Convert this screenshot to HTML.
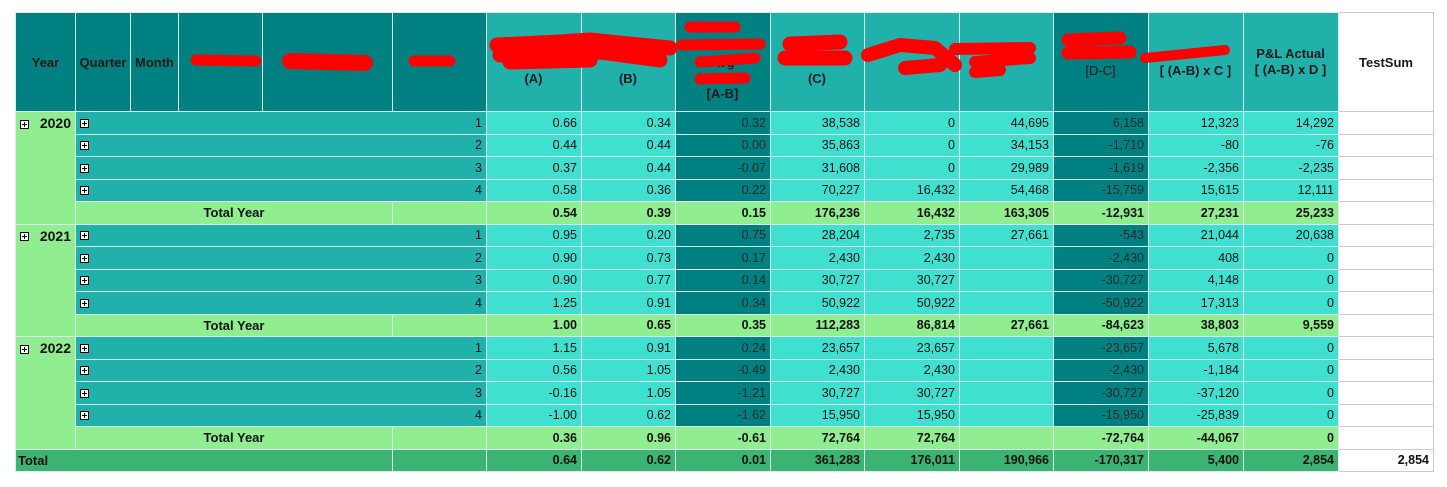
<!DOCTYPE html>
<html><head><meta charset="utf-8"><style>
*{margin:0;padding:0;box-sizing:border-box}
body{width:1447px;height:487px;background:#fff;position:relative;overflow:hidden;font-family:"Liberation Sans",Arial,sans-serif;font-size:12.5px;color:#111}
table{position:absolute;left:15px;top:12px;border-collapse:collapse;table-layout:fixed;width:1418px}
td,th{border:1px solid #d8eeee;padding:0 4px;overflow:hidden;white-space:nowrap}
th{height:99px;font-weight:bold;font-size:13px;color:#1a1a1a}
tr.r td{height:22.5px}
.hd{background:#008080}.hl{background:#20B2AA}
.t{background:#40E0D0;text-align:right}
.d{background:#008080;text-align:right;color:#1a2a2a}
.w{background:#fff;border:1px solid #ccc;text-align:right}
.g{background:#90EE90;text-align:right;font-weight:bold}
.G{background:#3CB371;text-align:right;font-weight:bold}
.q{background:#20B2AA;text-align:right}
.y{background:#90EE90;vertical-align:top;font-weight:bold;font-size:14px;padding-top:3px}
.pb{display:inline-block;width:9px;height:9px;border:1px solid #000;background:#fff;position:relative;vertical-align:middle}
.pb:before{content:"";position:absolute;left:1px;top:3px;width:5px;height:1px;background:#000}
.pb:after{content:"";position:absolute;left:3px;top:1px;width:1px;height:5px;background:#000}
.ht{position:absolute;font-weight:bold;text-align:center;font-size:13px;color:#1a1a1a;line-height:16px}
</style></head><body>
<table>
<colgroup><col style="width:60px"><col style="width:55px"><col style="width:48px"><col style="width:84px"><col style="width:130px"><col style="width:94px"><col style="width:95px"><col style="width:94px"><col style="width:95px"><col style="width:94px"><col style="width:95px"><col style="width:94px"><col style="width:95px"><col style="width:95px"><col style="width:95px"><col style="width:95px"><col style="width:95px"></colgroup>
<tr><th class="hd">Year</th><th class="hd" style="padding:0 2px">Quarter</th><th class="hd" style="padding:0 2px">Month</th><th class="hd"></th><th class="hd"></th><th class="hd"></th><th class="hl"></th><th class="hl"></th><th class="hd"></th><th class="hl"></th><th class="hl"></th><th class="hl"></th><th class="hd"></th><th class="hl"></th><th class="hl"></th><th class="w" style="text-align:center;border-color:#ccc">TestSum</th></tr>

<tr class="r"><td class="y" rowspan="5"><span class="pb"></span><span style="float:right">2020</span></td><td class="q" colspan="5" style="text-align:left"><span class="pb"></span><span style="float:right">1</span></td><td class="t">0.66</td><td class="t">0.34</td><td class="d">0.32</td><td class="t">38,538</td><td class="t">0</td><td class="t">44,695</td><td class="d">6,158</td><td class="t">12,323</td><td class="t">14,292</td><td class="w"></td></tr>
<tr class="r"><td class="q" colspan="5" style="text-align:left"><span class="pb"></span><span style="float:right">2</span></td><td class="t">0.44</td><td class="t">0.44</td><td class="d">0.00</td><td class="t">35,863</td><td class="t">0</td><td class="t">34,153</td><td class="d">-1,710</td><td class="t">-80</td><td class="t">-76</td><td class="w"></td></tr>
<tr class="r"><td class="q" colspan="5" style="text-align:left"><span class="pb"></span><span style="float:right">3</span></td><td class="t">0.37</td><td class="t">0.44</td><td class="d">-0.07</td><td class="t">31,608</td><td class="t">0</td><td class="t">29,989</td><td class="d">-1,619</td><td class="t">-2,356</td><td class="t">-2,235</td><td class="w"></td></tr>
<tr class="r"><td class="q" colspan="5" style="text-align:left"><span class="pb"></span><span style="float:right">4</span></td><td class="t">0.58</td><td class="t">0.36</td><td class="d">0.22</td><td class="t">70,227</td><td class="t">16,432</td><td class="t">54,468</td><td class="d">-15,759</td><td class="t">15,615</td><td class="t">12,111</td><td class="w"></td></tr>
<tr class="r"><td class="g" colspan="4" style="text-align:center;font-size:13px">Total Year</td><td class="g"></td><td class="g">0.54</td><td class="g">0.39</td><td class="g">0.15</td><td class="g">176,236</td><td class="g">16,432</td><td class="g">163,305</td><td class="g">-12,931</td><td class="g">27,231</td><td class="g">25,233</td><td class="w"></td></tr>

<tr class="r"><td class="y" rowspan="5"><span class="pb"></span><span style="float:right">2021</span></td><td class="q" colspan="5" style="text-align:left"><span class="pb"></span><span style="float:right">1</span></td><td class="t">0.95</td><td class="t">0.20</td><td class="d">0.75</td><td class="t">28,204</td><td class="t">2,735</td><td class="t">27,661</td><td class="d">-543</td><td class="t">21,044</td><td class="t">20,638</td><td class="w"></td></tr>
<tr class="r"><td class="q" colspan="5" style="text-align:left"><span class="pb"></span><span style="float:right">2</span></td><td class="t">0.90</td><td class="t">0.73</td><td class="d">0.17</td><td class="t">2,430</td><td class="t">2,430</td><td class="t"></td><td class="d">-2,430</td><td class="t">408</td><td class="t">0</td><td class="w"></td></tr>
<tr class="r"><td class="q" colspan="5" style="text-align:left"><span class="pb"></span><span style="float:right">3</span></td><td class="t">0.90</td><td class="t">0.77</td><td class="d">0.14</td><td class="t">30,727</td><td class="t">30,727</td><td class="t"></td><td class="d">-30,727</td><td class="t">4,148</td><td class="t">0</td><td class="w"></td></tr>
<tr class="r"><td class="q" colspan="5" style="text-align:left"><span class="pb"></span><span style="float:right">4</span></td><td class="t">1.25</td><td class="t">0.91</td><td class="d">0.34</td><td class="t">50,922</td><td class="t">50,922</td><td class="t"></td><td class="d">-50,922</td><td class="t">17,313</td><td class="t">0</td><td class="w"></td></tr>
<tr class="r"><td class="g" colspan="4" style="text-align:center;font-size:13px">Total Year</td><td class="g"></td><td class="g">1.00</td><td class="g">0.65</td><td class="g">0.35</td><td class="g">112,283</td><td class="g">86,814</td><td class="g">27,661</td><td class="g">-84,623</td><td class="g">38,803</td><td class="g">9,559</td><td class="w"></td></tr>

<tr class="r"><td class="y" rowspan="5"><span class="pb"></span><span style="float:right">2022</span></td><td class="q" colspan="5" style="text-align:left"><span class="pb"></span><span style="float:right">1</span></td><td class="t">1.15</td><td class="t">0.91</td><td class="d">0.24</td><td class="t">23,657</td><td class="t">23,657</td><td class="t"></td><td class="d">-23,657</td><td class="t">5,678</td><td class="t">0</td><td class="w"></td></tr>
<tr class="r"><td class="q" colspan="5" style="text-align:left"><span class="pb"></span><span style="float:right">2</span></td><td class="t">0.56</td><td class="t">1.05</td><td class="d">-0.49</td><td class="t">2,430</td><td class="t">2,430</td><td class="t"></td><td class="d">-2,430</td><td class="t">-1,184</td><td class="t">0</td><td class="w"></td></tr>
<tr class="r"><td class="q" colspan="5" style="text-align:left"><span class="pb"></span><span style="float:right">3</span></td><td class="t">-0.16</td><td class="t">1.05</td><td class="d">-1.21</td><td class="t">30,727</td><td class="t">30,727</td><td class="t"></td><td class="d">-30,727</td><td class="t">-37,120</td><td class="t">0</td><td class="w"></td></tr>
<tr class="r"><td class="q" colspan="5" style="text-align:left"><span class="pb"></span><span style="float:right">4</span></td><td class="t">-1.00</td><td class="t">0.62</td><td class="d">-1.62</td><td class="t">15,950</td><td class="t">15,950</td><td class="t"></td><td class="d">-15,950</td><td class="t">-25,839</td><td class="t">0</td><td class="w"></td></tr>
<tr class="r"><td class="g" colspan="4" style="text-align:center;font-size:13px">Total Year</td><td class="g"></td><td class="g">0.36</td><td class="g">0.96</td><td class="g">-0.61</td><td class="g">72,764</td><td class="g">72,764</td><td class="g"></td><td class="g">-72,764</td><td class="g">-44,067</td><td class="g">0</td><td class="w"></td></tr>

<tr class="r"><td class="G" colspan="5" style="text-align:left;padding-left:2px;font-size:13px">Total</td><td class="G"></td><td class="G">0.64</td><td class="G">0.62</td><td class="G">0.01</td><td class="G">361,283</td><td class="G">176,011</td><td class="G">190,966</td><td class="G">-170,317</td><td class="G">5,400</td><td class="G">2,854</td><td class="w" style="font-weight:bold">2,854</td></tr>
</table>

<div class="ht" style="left:486px;width:95px;top:71px">(A)</div>
<div class="ht" style="left:581px;width:94px;top:71px">(B)</div>
<div class="ht" style="left:675px;width:95px;top:55px">Avg</div>
<div class="ht" style="left:675px;width:95px;top:86px">[A-B]</div>
<div class="ht" style="left:770px;width:94px;top:71px">(C)</div>
<div class="ht" style="left:959px;width:94px;top:46px;text-align:right;padding-right:22px">vol</div>
<div class="ht" style="left:1053px;width:95px;top:63px;font-weight:normal">[D-C]</div>
<div class="ht" style="left:1148px;width:95px;top:63px">[ (A-B) x C ]</div>
<div class="ht" style="left:1243px;width:95px;top:46px">P&amp;L Actual<br>[ (A-B) x D ]</div>

<svg style="position:absolute;left:0;top:0" width="1447" height="120">
<g stroke="#f00" stroke-linecap="round" stroke-linejoin="round" fill="none">
<path d="M196 60 L256 61" stroke-width="11"/>
<path d="M290 61 L365 63" stroke-width="16"/>
<path d="M414 61 L450 61" stroke-width="11"/>
<path d="M497 45 L560 42 L590 40 L670 48 M500 55 L600 52 L660 60 M510 62 L590 60" stroke-width="15"/>
<path d="M690 27 L735 27 M682 45 L760 44 M700 62 L755 58 M700 79 L745 78" stroke-width="11"/>
<path d="M790 44 L840 42 M785 58 L845 58" stroke-width="15"/>
<path d="M868 55 L900 45 L935 48 L955 65 M905 68 L940 65" stroke-width="14"/>
<path d="M955 49 L1030 48 M975 62 L1030 58 M975 72 L1000 70" stroke-width="12"/>
<path d="M1068 40 L1120 38 M1068 53 L1130 52" stroke-width="13"/>
<path d="M1145 58 L1225 50" stroke-width="10"/>
</g></svg>
</body></html>
